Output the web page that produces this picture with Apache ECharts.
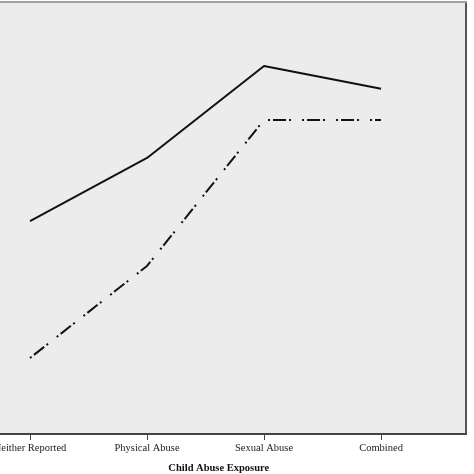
<!DOCTYPE html>
<html>
<head>
<meta charset="utf-8">
<script src="https://cdn.jsdelivr.net/npm/echarts@6/dist/echarts.min.js"></script>
<style>
  html, body { margin: 0; padding: 0; background: #fff; }
  #chart { width: 474px; height: 474px; }
</style>
</head>
<body>
<div id="chart"></div>
<script>
// categories on the x axis
var categories = ['Neither Reported', 'Physical Abuse', 'Sexual Abuse', 'Combined'];
// estimated means (y axis is not visible in the picture)
var solidValues = [49.3, 63.9, 85.2, 79.9];
var dashValues = [17.6, 38.9, 72.7, 72.7];
var tickPositions = [0, 1, 2, 3];

var myEcharts = echarts.init(document.getElementById('chart'));

function toPairs(vals) {
    return vals.map(function (v, i) { return [i, v]; });
}

var option = {
    animation: false,
    backgroundColor: '#ffffff',
    grid: {
        left: -28.5,
        right: 8,
        top: 2,
        bottom: 40,
        outerBoundsMode: 'none',
        show: true,
        backgroundColor: '#ececec',
        borderWidth: 0
    },
    xAxis: [{
        type: 'value',
        min: -0.5,
        max: 3.726,
        name: 'Child Abuse Exposure',
        nameLocation: 'middle',
        nameGap: 29,
        nameTextStyle: {
            fontFamily: 'Liberation Serif',
            fontWeight: 'bold',
            fontSize: 10.5,
            color: '#111'
        },
        splitLine: { show: false },
        axisLine: { show: true, onZero: false, lineStyle: { color: '#444', width: 2 } },
        axisTick: {
            show: true,
            inside: false,
            length: 6,
            customValues: tickPositions,
            lineStyle: { color: '#444', width: 1 }
        },
        axisLabel: {
            customValues: tickPositions,
            margin: 9,
            fontFamily: 'Liberation Serif',
            fontSize: 10.5,
            color: '#222',
            formatter: function (v) { return categories[Math.round(v)]; }
        }
    }, {
        // top edge of the frame
        type: 'value',
        position: 'top',
        min: -0.5,
        max: 3.726,
        splitLine: { show: false },
        axisTick: { show: false },
        axisLabel: { show: false },
        axisLine: { show: true, onZero: false, lineStyle: { color: '#a0a0a0', width: 2 } }
    }],
    yAxis: [{
        type: 'value',
        min: 0,
        max: 100,
        show: false,
        splitLine: { show: false }
    }, {
        // right edge of the frame
        type: 'value',
        position: 'right',
        min: 0,
        max: 100,
        splitLine: { show: false },
        axisTick: { show: false },
        axisLabel: { show: false },
        axisLine: { show: true, onZero: false, lineStyle: { color: '#555', width: 2 } }
    }],
    series: [{
        name: 'solid',
        type: 'line',
        data: toPairs(solidValues),
        showSymbol: false,
        lineStyle: { color: '#111', width: 2 }
    }, {
        name: 'dash-dot',
        type: 'line',
        data: toPairs(dashValues),
        showSymbol: false,
        // dot - dash - dot pattern like the original
        lineStyle: { color: '#111', width: 2, type: [2, 3, 13, 3, 2, 11] }
    }]
};

myEcharts.setOption(option);
</script>
</body>
</html>
